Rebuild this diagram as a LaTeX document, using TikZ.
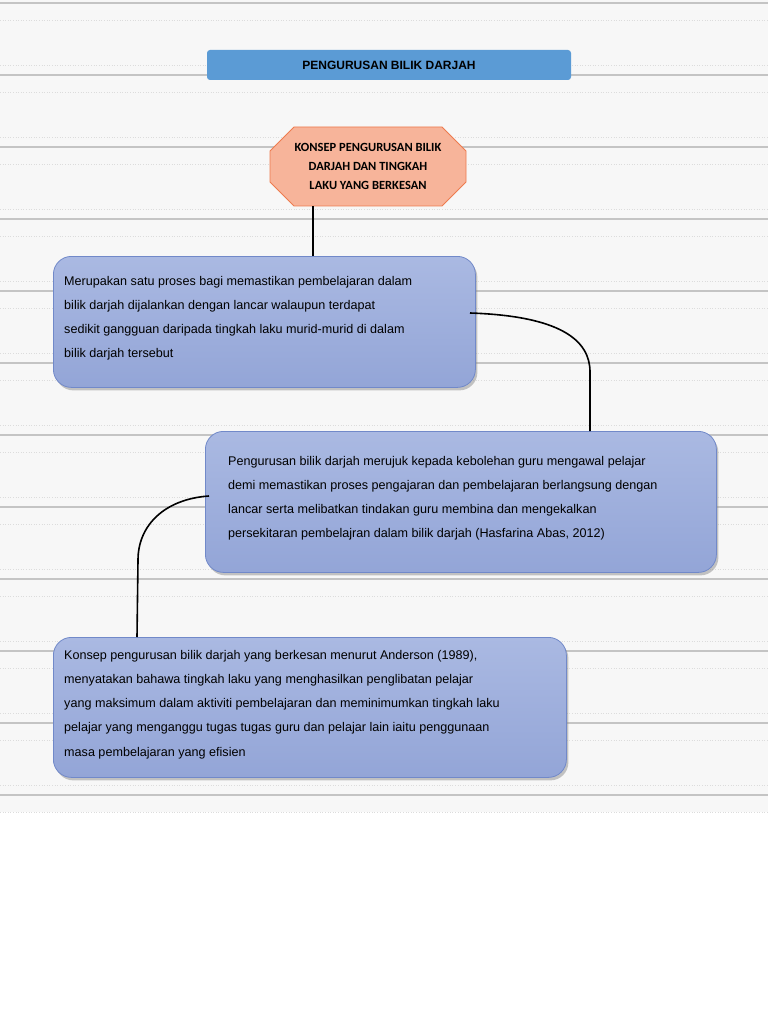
\documentclass[tikz,border=0pt]{standalone}
\usepackage{fontspec}
\setmainfont{Liberation Sans}
\newfontfamily\calib{Carlito}
\usetikzlibrary{shapes.misc,shadows}
\definecolor{bg}{HTML}{F7F7F7}
\definecolor{rule}{HTML}{C4C4C4}
\definecolor{titleblue}{HTML}{5B9BD5}
\definecolor{orfill}{HTML}{F7B49A}
\definecolor{ordraw}{HTML}{EE7B4E}
\definecolor{bltop}{HTML}{AAB9E2}
\definecolor{blbot}{HTML}{93A5D7}
\definecolor{bldraw}{HTML}{7189C9}
\tikzset{
  x=1pt,y=-1pt,
  bbox/.style={draw=bldraw,line width=0.8pt,rounded corners=18pt,top color=bltop,bottom color=blbot,
    drop shadow={shadow xshift=2pt,shadow yshift=-3pt,fill=black!45},anchor=north west,inner sep=0pt},
  btext/.style={anchor=north west,align=left,font=\fontsize{12.6}{24.2}\selectfont,inner sep=0pt},
  conn/.style={line width=1.6pt,black}
}
\begin{document}
\begin{tikzpicture}
\useasboundingbox (0,0) rectangle (768,1024);
\fill[white] (0,0) rectangle (768,1024);
\fill[bg] (0,0) rectangle (768,812);
\foreach \y in {3,75,...,795}{
  \draw[rule,line width=1.8pt] (0,\y) -- (768,\y);
  \draw[rule!60,line width=0.6pt,dotted] (0,\y+17) -- (768,\y+17);
  \draw[rule!60,line width=0.6pt,dotted] (0,\y-10) -- (768,\y-10);
}
% title
\node[fill=titleblue,rounded corners=3pt,minimum width=364pt,minimum height=30pt,inner sep=0pt,
  font=\bfseries\fontsize{12}{14}\selectfont] (title) at (389,65) {PENGURUSAN BILIK DARJAH};
% orange
\node[chamfered rectangle,chamfered rectangle corners={north west,north east,south west,south east},
  chamfered rectangle xsep=12pt,chamfered rectangle ysep=12pt,
  fill=orfill,draw=ordraw,line width=0.8pt,minimum width=196pt,minimum height=79pt,inner sep=0pt,
  align=center,font=\calib\bfseries\fontsize{12.5}{19}\selectfont] (konsep) at (368,166.5)
  {KONSEP PENGURUSAN BILIK\\DARJAH DAN TINGKAH\\LAKU YANG BERKESAN};
% boxes
\node[bbox,minimum width=422pt,minimum height=131pt] (b1) at (53,256) {};
\node[btext] at (64,276) {Merupakan satu proses bagi memastikan pembelajaran dalam\\bilik darjah dijalankan dengan lancar walaupun terdapat\\sedikit gangguan daripada tingkah laku murid-murid di dalam\\bilik darjah tersebut};
\node[bbox,minimum width=511pt,minimum height=141pt] (b2) at (205,431) {};
\node[btext] at (228,456) {Pengurusan bilik darjah merujuk kepada kebolehan guru mengawal pelajar\\demi memastikan proses pengajaran dan pembelajaran berlangsung dengan\\lancar serta melibatkan tindakan guru membina dan mengekalkan\\persekitaran pembelajran dalam bilik darjah (Hasfarina Abas, 2012)};
\node[bbox,minimum width=513pt,minimum height=140pt] (b3) at (53,637) {};
\node[btext] at (64,650) {Konsep pengurusan bilik darjah yang berkesan menurut Anderson (1989),\\menyatakan bahawa tingkah laku yang menghasilkan penglibatan pelajar\\yang maksimum dalam aktiviti pembelajaran dan meminimumkan tingkah laku\\pelajar yang menganggu tugas tugas guru dan pelajar lain iaitu penggunaan\\masa pembelajaran yang efisien};
% connectors
\coordinate (c1) at (470,313);
\coordinate (c2) at (209,496);
\draw[conn] (konsep.south -| 313,0) -- (313,256);
\draw[conn] (c1) .. controls (560,316) and (590,340) .. (590,372) -- (590,431);
\draw[conn] (c2) .. controls (165,499) and (138,525) .. (138,560) -- (137,637);
\end{tikzpicture}
\end{document}
